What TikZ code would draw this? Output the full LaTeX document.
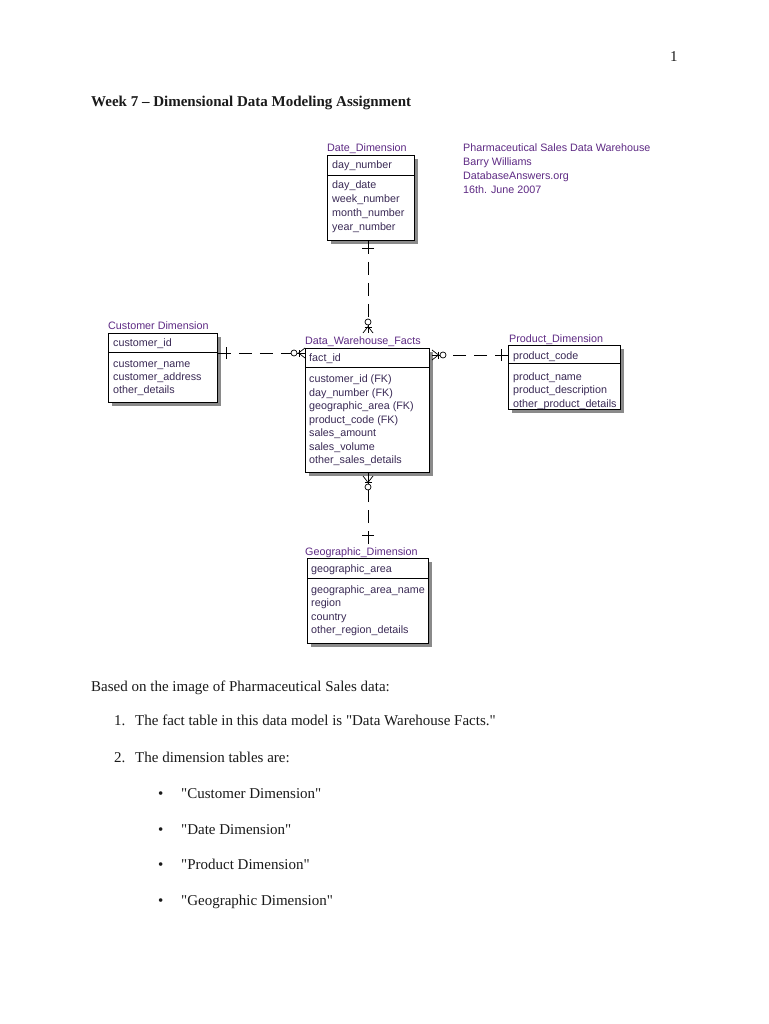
\documentclass[tikz,border=0pt]{standalone}
\usepackage{fontspec}
\setmainfont{Liberation Serif}
\newfontfamily\erfont{Liberation Sans}
\newfontfamily\qfont{Liberation Serif}
\usetikzlibrary{shadows}
\definecolor{ertitle}{HTML}{5E2A84}
\definecolor{erfield}{HTML}{3A2A55}
\definecolor{bodytext}{HTML}{1A1A1A}
\definecolor{shadowgray}{HTML}{8A8A8A}
\newcommand\dq{{\qfont"}}
\begin{document}
\begin{tikzpicture}[x=1pt,y=-1pt,
  bodyt/.style={anchor=base west, inner sep=0, text=bodytext, font=\fontsize{15}{18}\selectfont},
  ertxt/.style={anchor=base west, inner sep=0, text=erfield, font=\erfont\fontsize{10.75}{12}\selectfont},
  erhead/.style={ertxt, text=ertitle},
  erbox/.style={draw=black, line width=0.8pt, fill=white, anchor=north west, inner sep=0,
    drop shadow={shadow xshift=3.5pt, shadow yshift=-3.5pt, fill=shadowgray, opacity=1}},
  sepline/.style={line width=0.6pt, black},
  link/.style={line width=0.7pt, black},
  dashedlink/.style={link, dash pattern=on 13pt off 8pt},
  onebar/.pic={\draw[link] (0pt,-6pt) -- (0pt,6pt);},
  zeromany/.pic={
    \draw[link] (3pt,0pt) -- (11pt,0pt);
    \draw[link] (4.5pt,0pt) -- (11pt,5pt) (4.5pt,0pt) -- (11pt,-5pt);
    \draw[link] (5pt,-3.5pt) -- (5pt,3.5pt);
    \draw[link, fill=white] (0pt,0pt) circle[radius=3pt];
  },
]
\useasboundingbox[fill=white] (0,0) rectangle (768,1024);

% ---------- page header ----------
\node[bodyt] (pagenum) at (670,62) {1};
\node[bodyt, font=\bfseries\fontsize{15}{18}\selectfont] (title) at (91,107) {Week 7 – Dimensional Data Modeling Assignment};

% ---------- tables ----------
\node[erbox, minimum width=87, minimum height=85] (date) at (327,155) {};
\node[erbox, minimum width=109, minimum height=69] (customer) at (108,333) {};
\node[erbox, minimum width=124, minimum height=124] (facts) at (305,348) {};
\node[erbox, minimum width=112, minimum height=64] (product) at (508,345) {};
\node[erbox, minimum width=121, minimum height=85] (geo) at (307,558) {};

\draw[sepline] (date.west |- {0,175}) -- (date.east |- {0,175});
\draw[sepline] (customer.west |- {0,352}) -- (customer.east |- {0,352});
\draw[sepline] (facts.west |- {0,367}) -- (facts.east |- {0,367});
\draw[sepline] (product.west |- {0,363}) -- (product.east |- {0,363});
\draw[sepline] (geo.west |- {0,578}) -- (geo.east |- {0,578});

% Date_Dimension
\node[erhead] (dateT) at (327,152) {Date\_Dimension};
\node[ertxt] (d1) at (332,169) {day\_number};
\node[ertxt] (d2) at (332,189) {day\_date};
\node[ertxt] (d3) at (332,203) {week\_number};
\node[ertxt] (d4) at (332,217) {month\_number};
\node[ertxt] (d5) at (332,231) {year\_number};

% note
\node[erhead] (n1) at (463,152) {Pharmaceutical Sales Data Warehouse};
\node[erhead] (n2) at (463,166) {Barry Williams};
\node[erhead] (n3) at (463,180) {DatabaseAnswers.org};
\node[erhead] (n4) at (463,194) {16th. June 2007};

% Customer Dimension
\node[erhead] (custT) at (108,329) {Customer Dimension};
\node[ertxt] (c1) at (113,346) {customer\_id};
\node[ertxt] (c2) at (113,367) {customer\_name};
\node[ertxt] (c3) at (113,380) {customer\_address};
\node[ertxt] (c4) at (113,393) {other\_details};

% Data_Warehouse_Facts
\node[erhead] (factT) at (305,344) {Data\_Warehouse\_Facts};
\node[ertxt] (f1) at (309,361) {fact\_id};
\node[ertxt] (f2) at (309,382) {customer\_id (FK)};
\node[ertxt] (f3) at (309,396) {day\_number (FK)};
\node[ertxt] (f4) at (309,409) {geographic\_area (FK)};
\node[ertxt] (f5) at (309,423) {product\_code (FK)};
\node[ertxt] (f6) at (309,436) {sales\_amount};
\node[ertxt] (f7) at (309,450) {sales\_volume};
\node[ertxt] (f8) at (309,463) {other\_sales\_details};

% Product_Dimension
\node[erhead] (prodT) at (509,342) {Product\_Dimension};
\node[ertxt] (p1) at (513,359) {product\_code};
\node[ertxt] (p2) at (513,380) {product\_name};
\node[ertxt] (p3) at (513,393) {product\_description};
\node[ertxt] (p4) at (513,407) {other\_product\_details};

% Geographic_Dimension
\node[erhead] (geoT) at (305,555) {Geographic\_Dimension};
\node[ertxt] (g1) at (311,572) {geographic\_area};
\node[ertxt] (g2) at (311,593) {geographic\_area\_name};
\node[ertxt] (g3) at (311,606) {region};
\node[ertxt] (g4) at (311,620) {country};
\node[ertxt] (g5) at (311,633) {other\_region\_details};

% ---------- connectors ----------
\coordinate (fTop) at (368,333);
\coordinate (gTop) at (368,544);
% Date -> Facts
\draw[dashedlink] (date.south -| fTop) -- (fTop);
\pic[rotate=90] at (368,248) {onebar};
\pic[rotate=-90] at (368,322) {zeromany};
% Customer -> Facts
\draw[dashedlink] (customer.east |- {0,353}) -- (facts.west |- {0,353});
\pic at (226,353) {onebar};
\pic at (294,353) {zeromany};
% Facts -> Product
\draw[dashedlink] (product.west |- {0,355}) -- (facts.east |- {0,355});
\pic at (501,355) {onebar};
\pic[rotate=180] at (443,355) {zeromany};
% Facts -> Geographic
\draw[dashedlink] (gTop) -- (facts.south -| gTop);
\pic[rotate=90] at (368,535) {onebar};
\pic[rotate=90] at (368,487) {zeromany};

% ---------- body text ----------
\node[bodyt] (based) at (91,691) {Based on the image of Pharmaceutical Sales data:};
\node[bodyt] (num1) at (114,725) {1.};
\node[bodyt] (item1) at (135,725) {The fact table in this data model is \dq Data Warehouse Facts.\dq};
\node[bodyt] (num2) at (114,762) {2.};
\node[bodyt] (item2) at (135,762) {The dimension tables are:};
\node[bodyt] (b1) at (158,798) {•};
\node[bodyt] (t1) at (181,798) {\dq Customer Dimension\dq};
\node[bodyt] (b2) at (158,834) {•};
\node[bodyt] (t2) at (181,834) {\dq Date Dimension\dq};
\node[bodyt] (b3) at (158,869) {•};
\node[bodyt] (t3) at (181,869) {\dq Product Dimension\dq};
\node[bodyt] (b4) at (158,905) {•};
\node[bodyt] (t4) at (181,905) {\dq Geographic Dimension\dq};
\end{tikzpicture}
\end{document}
